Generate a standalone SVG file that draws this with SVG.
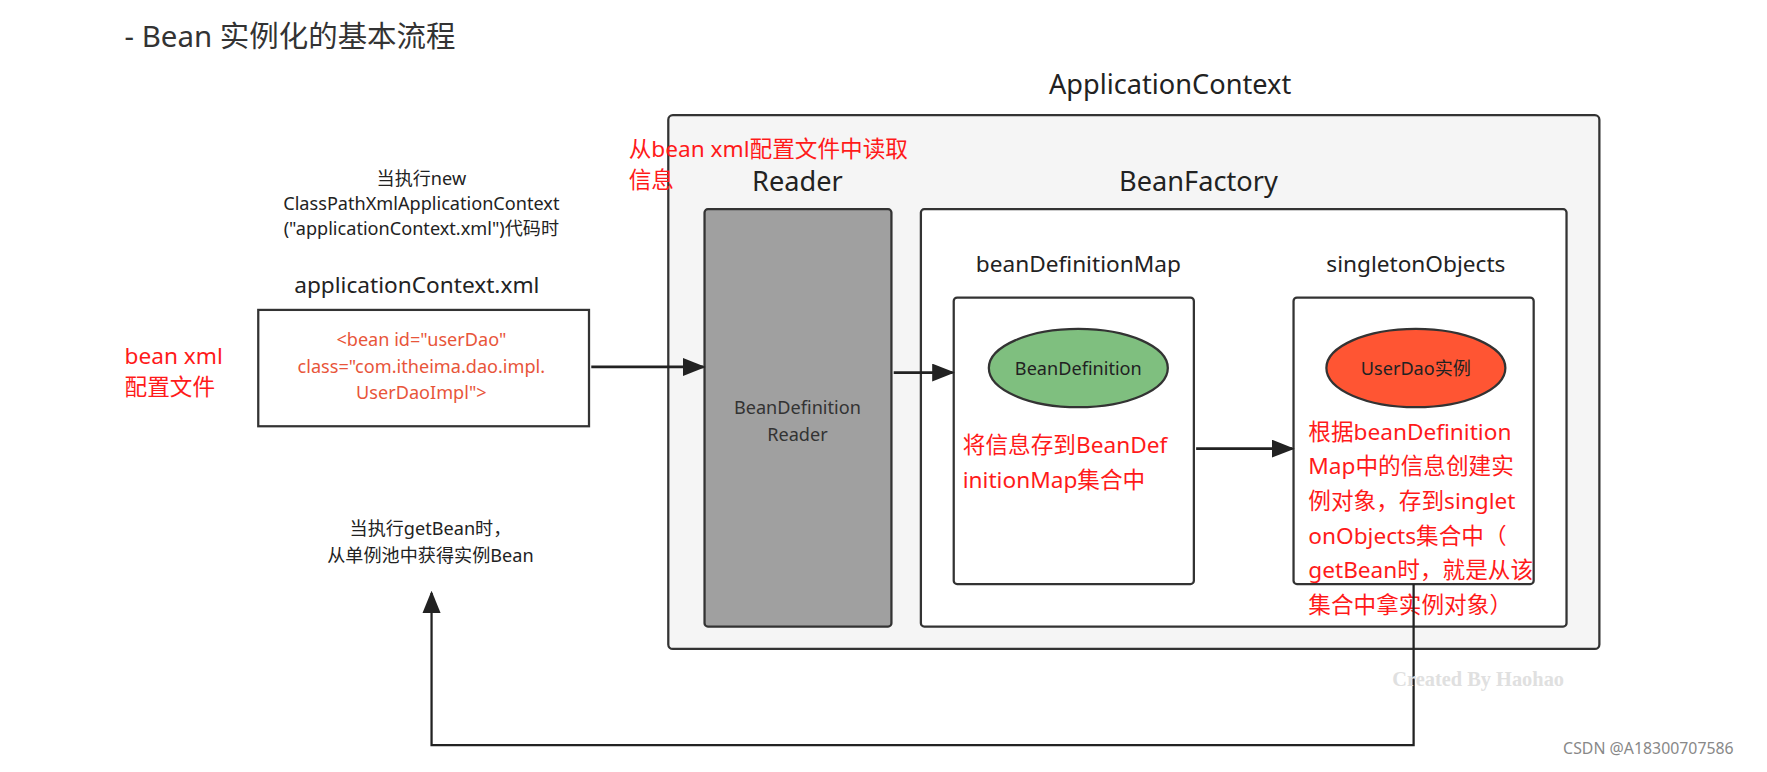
<svg xmlns="http://www.w3.org/2000/svg" width="1767" height="772" viewBox="0 0 1767 772">
<defs>
<marker id="ah" markerWidth="10" markerHeight="10" refX="9" refY="5" orient="auto" markerUnits="userSpaceOnUse"><path d="M0,0 L10,5 L0,10 Z" fill="#222"/></marker>
<marker id="ah2" markerWidth="20" markerHeight="16" refX="18" refY="8" orient="auto" markerUnits="userSpaceOnUse"><path d="M0,0 L20,8 L0,16 Z" fill="#222"/></marker>
</defs>
<style>
text{font-family:"Noto Sans","Noto Sans CJK SC",sans-serif}
.d{fill:#222}.r{fill:#ff1a1a;font-size:20px}.c{text-anchor:middle}
.box{stroke:#333;stroke-width:2}
.ln{stroke:#222;fill:none}
</style>
<rect width="1767" height="772" fill="#fff"/>
<g transform="scale(1.1327,1.1188)">
<text x="110" y="42" font-size="26" fill="#333">- Bean 实例化的基本流程</text>
<g id="applicationContext">
<rect class="box" x="590" y="103" width="822" height="477" rx="4" fill="#f5f5f5"/>
<text class="d c" x="1033" y="84" font-size="24">ApplicationContext</text>
</g>
<text class="r" x="555" y="140">从bean xml配置文件中读取</text>
<text class="r" x="555" y="168">信息</text>
<g id="reader">
<text class="d c" x="704" y="171" font-size="24">Reader</text>
<rect class="box" x="622" y="187" width="165" height="373" rx="3" fill="#a0a0a0"/>
<text class="c" x="704" y="370" font-size="16" fill="#333">BeanDefinition</text>
<text class="c" x="704" y="394" font-size="16" fill="#333">Reader</text>
</g>
<g id="beanFactory">
<text class="d c" x="1058" y="171" font-size="24">BeanFactory</text>
<rect class="box" x="813" y="187" width="570" height="373" rx="3" fill="#fff"/>
</g>
<g id="beanDefinitionMap">
<text class="d c" x="952" y="243" font-size="20">beanDefinitionMap</text>
<rect class="box" x="842" y="266" width="212" height="256" rx="3" fill="#fff"/>
<ellipse cx="952" cy="329" rx="79" ry="35" fill="#7fbf7f" stroke="#333" stroke-width="2"/>
<text class="c" x="952" y="335" font-size="16" fill="#222">BeanDefinition</text>
<text class="r" x="850" y="405">将信息存到BeanDef</text>
<text class="r" x="850" y="436">initionMap集合中</text>
</g>
<g id="singletonObjects">
<text class="d c" x="1250" y="243" font-size="20">singletonObjects</text>
<rect class="box" x="1142" y="266" width="212" height="256" rx="3" fill="#fff"/>
<ellipse cx="1250" cy="329" rx="79" ry="35" fill="#ff5533" stroke="#333" stroke-width="2"/>
<text class="c" x="1250" y="335" font-size="16" fill="#222">UserDao实例</text>
<text class="r" x="1155" y="393">根据beanDefinition</text>
<text class="r" x="1155" y="424">Map中的信息创建实</text>
<text class="r" x="1155" y="455">例对象，存到singlet</text>
<text class="r" x="1155" y="486">onObjects集合中（</text>
<text class="r" x="1155" y="517">getBean时，就是从该</text>
<text class="r" x="1155" y="548">集合中拿实例对象）</text>
</g>
<g id="xml">
<text class="c" x="372" y="165" font-size="16" fill="#222">当执行new</text>
<text class="c" x="372" y="188" font-size="16" fill="#222">ClassPathXmlApplicationContext</text>
<text class="c" x="372" y="210" font-size="16" fill="#222">("applicationContext.xml")代码时</text>
<text class="d c" x="368" y="262" font-size="20">applicationContext.xml</text>
<rect class="box" x="228" y="277" width="292" height="104" fill="#fff"/>
<text class="c" x="372" y="309" font-size="16" fill="#e8553a">&lt;bean id="userDao"</text>
<text class="c" x="372" y="333" font-size="16" fill="#e8553a">class="com.itheima.dao.impl.</text>
<text class="c" x="372" y="357" font-size="16" fill="#e8553a">UserDaoImpl"&gt;</text>
<text class="r" x="110" y="325">bean xml</text>
<text class="r" x="110" y="353">配置文件</text>
</g>
<text class="c" x="380" y="478" font-size="16" fill="#222">当执行getBean时，</text>
<text class="c" x="380" y="502" font-size="16" fill="#222">从单例池中获得实例Bean</text>
<g id="connectors">
<line class="ln" x1="522" y1="328" x2="621" y2="328" stroke-width="2.5" marker-end="url(#ah2)"/>
<line class="ln" x1="789" y1="333" x2="841" y2="333" stroke-width="2.5" marker-end="url(#ah2)"/>
<line class="ln" x1="1056" y1="401" x2="1141" y2="401" stroke-width="2.5" marker-end="url(#ah2)"/>
<polyline class="ln" points="1248,522 1248,666 381,666 381,530" stroke-width="2" marker-end="url(#ah2)"/>
</g>
<text class="c" x="1305" y="613" font-size="18" font-weight="bold" fill="#e0e0e0" style="font-family:'Liberation Serif',serif">Created By Haohao</text>
<text x="1380" y="674" font-size="14" fill="#888">CSDN @A18300707586</text>
</g>
</svg>
